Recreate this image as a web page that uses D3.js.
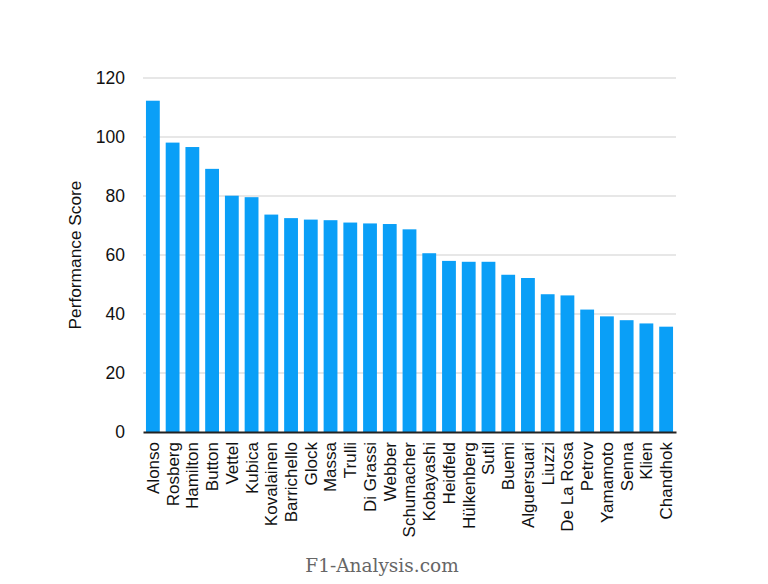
<!DOCTYPE html>
<html>
<head>
<meta charset="utf-8">
<script src="https://cdn.jsdelivr.net/npm/d3@7"></script>
<style>
  html, body { margin: 0; padding: 0; background: #fff; }
  svg { display: block; font-family: "Liberation Sans", Arial, sans-serif; }
</style>
</head>
<body>
<div id="chart"></div>
<script>
// Driver names, in plotted order
const drivers = ["Alonso", "Rosberg", "Hamilton", "Button", "Vettel", "Kubica",
  "Kovalainen", "Barrichello", "Glock", "Massa", "Trulli", "Di Grassi", "Webber",
  "Schumacher", "Kobayashi", "Heidfeld", "Hülkenberg", "Sutil", "Buemi",
  "Alguersuari", "Liuzzi", "De La Rosa", "Petrov", "Yamamoto", "Senna", "Klien",
  "Chandhok"];

// Performance score per driver
const scores = [112.3, 98.1, 96.6, 89.2, 80.1, 79.6, 73.7, 72.5, 72.0, 71.8, 71.0,
  70.7, 70.5, 68.7, 60.6, 58.0, 57.7, 57.7, 53.3, 52.2, 46.7, 46.3, 41.5, 39.2,
  37.9, 36.8, 35.7];

const yTicks = [0, 20, 40, 60, 80, 100, 120];

const width = 768, height = 584;
const margin = { top: 78, right: 92, bottom: 152, left: 143 };
const innerW = width - margin.left - margin.right;
const innerH = height - margin.top - margin.bottom;

const svg = d3.select("#chart").append("svg")
  .attr("width", width)
  .attr("height", height);

const g = svg.append("g")
  .attr("transform", `translate(${margin.left},${margin.top})`);

const x = d3.scaleBand()
  .domain(drivers)
  .range([0, innerW])
  .paddingInner(0.3)
  .paddingOuter(0.15);

const y = d3.scaleLinear()
  .domain([0, 120])
  .range([innerH, 0]);

// gridlines
g.selectAll(".grid")
  .data(yTicks.filter(d => d > 0))
  .enter()
  .append("line")
  .attr("x1", 0)
  .attr("x2", innerW)
  .attr("y1", d => y(d))
  .attr("y2", d => y(d))
  .attr("stroke", "#cfcfcf")
  .attr("stroke-width", 1);

// bars
g.selectAll(".bar")
  .data(drivers)
  .enter()
  .append("rect")
  .attr("x", d => x(d))
  .attr("width", x.bandwidth())
  .attr("y", (d, i) => y(scores[i]))
  .attr("height", (d, i) => innerH - y(scores[i]))
  .attr("fill", "#0a9ff7");

// y axis labels (no line)
const yAxis = g.append("g")
  .call(d3.axisLeft(y).tickValues(yTicks).tickSize(0).tickPadding(18));
yAxis.select(".domain").remove();
yAxis.selectAll("text")
  .attr("font-size", 17.5)
  .attr("font-family", "Liberation Sans, Arial, sans-serif")
  .attr("fill", "#111");

// x axis
const xAxis = g.append("g")
  .attr("transform", `translate(0,${innerH})`)
  .call(d3.axisBottom(x).tickSize(0).tickPadding(0));
xAxis.select(".domain")
  .attr("stroke", "#222")
  .attr("stroke-width", 2);
xAxis.selectAll("text")
  .attr("font-size", 17)
  .attr("font-family", "Liberation Sans, Arial, sans-serif")
  .attr("fill", "#111")
  .attr("transform", "rotate(-90)")
  .attr("text-anchor", "end")
  .attr("x", -10)
  .attr("y", 0)
  .attr("dy", "0.35em");

// y axis title
svg.append("text")
  .attr("transform", `translate(81,${margin.top + innerH / 2}) rotate(-90)`)
  .attr("text-anchor", "middle")
  .attr("font-size", 17.3)
  .attr("fill", "#111")
  .text("Performance Score");

// watermark
svg.append("text")
  .attr("x", 382)
  .attr("y", 572)
  .attr("text-anchor", "middle")
  .attr("font-family", "DejaVu Serif, serif")
  .attr("font-size", 18.5)
  .attr("fill", "#666")
  .text("F1-Analysis.com");
</script>
</body>
</html>
